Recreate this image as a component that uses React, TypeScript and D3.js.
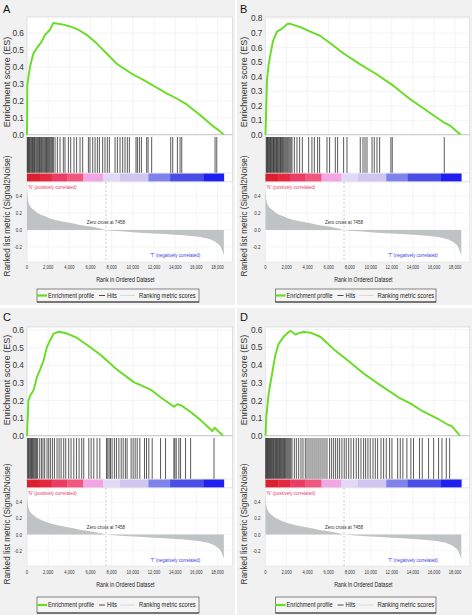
import React from "react";
import * as d3 from "d3";

const FONT = "'Liberation Sans', Arial, Helvetica, sans-serif";

// ---- chart values ----
const panelLetters = ["A", "B", "C", "D"];
const rankTickValues = [0, 2000, 4000, 6000, 8000, 10000, 12000, 14000, 16000, 18000];
const metricTickValues = [0.4, 0.2, 0.0, -0.2];
const esTicksA = [0, 0.1, 0.2, 0.3, 0.4, 0.5, 0.6];
const esTicksB = [0, 0.1, 0.2, 0.3, 0.4, 0.5, 0.6, 0.7, 0.8];
const esTicksC = [0, 0.1, 0.2, 0.3, 0.4, 0.5, 0.6];
const esTicksD = [0, 0.1, 0.2, 0.3, 0.4, 0.5, 0.6];
const esAxisMax = [0.695, 0.81, 0.617, 0.615];
const datasetSize = 18600;
const axisEndRank = 19400;
const zeroCrossRank = 7458;

// ranked list metric (signal2noise), shared by all four sets
const metricRanks = [0, 60, 150, 300, 600, 1000, 1500, 2000, 3000, 4000, 5000, 6000, 7000, 7458, 8500, 10000, 12000, 14000, 15500, 16500, 17300, 17900, 18300, 18600];
const metricScores = [0.48, 0.38, 0.32, 0.28, 0.24, 0.2, 0.17, 0.145, 0.11, 0.085, 0.06, 0.04, 0.015, 0, -0.012, -0.025, -0.04, -0.055, -0.07, -0.085, -0.11, -0.15, -0.2, -0.3];

// running enrichment score [rank, ES]
const esA: [number, number][] = [
  [0, 0], [30, 0.295], [280, 0.4], [600, 0.48], [910, 0.51], [1390, 0.55], [1700, 0.59], [2170, 0.62], [2490, 0.66],
  [3430, 0.65], [4060, 0.64], [4850, 0.62], [5640, 0.59], [6580, 0.54], [7530, 0.48], [8470, 0.42], [10050, 0.355],
  [11000, 0.325], [11940, 0.29], [13200, 0.245], [14150, 0.215], [15090, 0.18], [16350, 0.118], [17610, 0.05], [18080, 0.03], [18620, 0],
];
const esB: [number, number][] = [
  [0, 0], [140, 0.376], [300, 0.485], [460, 0.55], [710, 0.645], [1090, 0.71], [1570, 0.73], [2040, 0.76], [2290, 0.765],
  [3310, 0.74], [4260, 0.71], [5210, 0.68], [6160, 0.63], [7420, 0.56], [9000, 0.485], [10590, 0.415], [12170, 0.337],
  [13750, 0.246], [15330, 0.166], [16910, 0.087], [17550, 0.064], [18560, 0],
];
const esC: [number, number][] = [
  [0, 0], [130, 0.2], [320, 0.23], [630, 0.26], [950, 0.335], [1260, 0.38], [1580, 0.43], [1890, 0.505], [2210, 0.545],
  [2520, 0.58], [3000, 0.59], [3790, 0.58], [4730, 0.555], [5680, 0.515], [6940, 0.46], [8520, 0.375], [10090, 0.305],
  [11670, 0.263], [12620, 0.22], [13880, 0.165], [14200, 0.18], [14670, 0.17], [15460, 0.136], [16400, 0.09],
  [17510, 0.028], [17730, 0.047], [18550, 0],
];
const esD: [number, number][] = [
  [0, 0], [80, 0.11], [300, 0.24], [620, 0.35], [930, 0.456], [1250, 0.52], [1720, 0.56], [2200, 0.587], [2420, 0.593],
  [2830, 0.572], [3150, 0.58], [3620, 0.587], [4260, 0.583], [5210, 0.56], [6470, 0.49], [7740, 0.43], [9320, 0.353],
  [10900, 0.287], [12800, 0.212], [13750, 0.184], [15010, 0.137], [16280, 0.1], [17380, 0.062], [17700, 0.056], [18500, 0],
];

// gene set member positions in the ranked list
const hitsA = [
  30, 90, 150, 230, 300, 380, 450, 520, 610, 700, 760, 850, 930, 1010, 1100, 1180, 1260, 1350, 1420, 1500, 1590, 1680,
  1760, 1840, 1930, 2020, 2110, 2200, 2300, 2400, 2490, 2650, 2870, 3120, 3430, 3590, 3910, 4130, 4440, 4690, 5010, 5260,
  5800, 5950, 6210, 6430, 6650, 6840, 7150, 7370, 7590, 7780, 8320, 8540, 8790, 9040, 9260, 9480, 9670, 10300, 10430,
  10620, 10810, 11310, 11440, 11780, 13580, 13770, 14210, 14460, 14620, 17770, 17930,
];
const hitsB = [
  80, 140, 200, 260, 330, 400, 470, 540, 610, 690, 760, 830, 900, 980, 1050, 1130, 1200, 1280, 1360, 1430, 1510, 1600,
  1680, 1760, 1850, 1940, 2030, 2120, 2220, 2320, 2420, 2520, 2740, 2990, 3240, 3500, 4100, 4410, 4640, 4950, 5140, 5840,
  6090, 6630, 6850, 7420, 7740, 9000, 9260, 9450, 9640, 10120, 10330, 10590, 10840, 11910, 12040, 16980,
];
const hitsC = [
  60, 130, 200, 280, 350, 430, 510, 590, 670, 760, 840, 920, 1010, 1200, 1360, 1510, 1670, 1890, 2050, 2210, 2400, 2590,
  2840, 3030, 3220, 3470, 3660, 3940, 4160, 4420, 4670, 4920, 5170, 5360, 5840, 6060, 6310, 6620, 6880, 7510, 7630, 7760,
  7890, 8040, 8260, 8450, 8680, 8900, 9090, 9300, 9460, 9840, 10030, 10220, 10410, 10660, 11100, 11290, 11510, 11830,
  12620, 13090, 13880, 13970, 14100, 14350, 14510, 14980, 15460, 17670,
];
const hitsD = [
  20, 80, 140, 200, 270, 330, 400, 470, 540, 600, 680, 750, 820, 900, 970, 1040, 1120, 1190, 1260, 1340, 1410, 1490,
  1560, 1640, 1720, 1800, 1880, 1960, 2050, 2140, 2230, 2320, 2410, 2520, 2740, 2930, 3150, 3370, 3560, 3780, 3940, 4130,
  4320, 4510, 4700, 4890, 5080, 5270, 5460, 5650, 5840, 6090, 6280, 6470, 6660, 6850, 7040, 7260, 7480, 7670, 7900, 8120,
  8370, 8620, 8840, 9070, 9320, 9510, 9730, 9950, 10210, 10430, 10650, 10970, 11220, 11470, 11790, 12010, 12550, 12800,
  13050, 13430, 13810, 14060, 14630, 14890, 15490, 15970, 16440, 16760, 17170, 17490,
];

// red -> blue heat bar under the hits
const colorBarEdges = [0, 1200, 2330, 3800, 5320, 7210, 8790, 11470, 13520, 16670, 18600];
const colorBarColors = ["#dc1f2e", "#e6283e", "#ec3b64", "#f0577f", "#f3a6e6", "#e2d9f7", "#cfc6f2", "#7f82ea", "#4b4ee6", "#1f1ff0"];

// ---- layout ----
const rowLayouts = [
  { oy: 0, h: 305, esTop: 17, esZero: 135, esLabelY: 82, hitsBottom: 173, barBottom: 182, rankZero: 230, rankStep: 17, rankBottom: 262, tickY: 269, titleY: 282, legTop: 289, legBottom: 302 },
  { oy: 308, h: 307, esTop: 19, esZero: 128, esLabelY: 72, hitsBottom: 171, barBottom: 180, rankZero: 226.5, rankStep: 16.2, rankBottom: 258, tickY: 266, titleY: 279, legTop: 289, legBottom: 305 },
];
const colLayouts = [
  { ox: 0, x0: 27, x18k: 217.5 },
  { ox: 237, x0: 28.5, x18k: 218 },
];

const GREEN = "#66dd22";

type LabelProps = {
  x: number; y: number; size: number; sx?: number; anchor?: string; fill?: string; rotate?: boolean;
  children: React.ReactNode;
};
const Label = ({ x, y, size, sx = 1, anchor = "start", fill = "#333", rotate = false, children }: LabelProps) => (
  <text
    transform={`translate(${x},${y})${rotate ? " rotate(-90)" : ""} scale(${sx},1)`}
    fontSize={size}
    fontFamily={FONT}
    textAnchor={anchor}
    fill={fill}
  >
    {children}
  </text>
);

type PanelProps = { index: number; es: [number, number][]; hits: number[]; esTicks: number[] };

function Panel({ index, es, hits, esTicks }: PanelProps) {
  const row = rowLayouts[Math.floor(index / 2)];
  const col = colLayouts[index % 2];
  const x = d3.scaleLinear().domain([0, 18000]).range([col.x0, col.x18k]);
  const xL = x(0);
  const xR = x(axisEndRank);
  const yEs = d3.scaleLinear().domain([0, esAxisMax[index]]).range([row.esZero, row.esTop]);
  const yM = d3.scaleLinear().domain([0, 0.2]).range([row.rankZero, row.rankZero - row.rankStep]);

  const esPath = d3.line<[number, number]>().x((d) => x(d[0])).y((d) => yEs(d[1]))(es) || "";
  const metricPts = metricRanks.map((r, i) => [r, metricScores[i]] as [number, number]);
  const metricPath =
    d3.area<[number, number]>().x((d) => x(d[0])).y0(yM(0)).y1((d) => yM(d[1])).curve(d3.curveMonotoneX)(metricPts) || "";

  const legL = xL + 10;
  const legR = 199;
  const legMid = (row.legTop + row.legBottom) / 2;
  const xEnd = x(datasetSize);

  return (
    <g transform={`translate(${col.ox},${row.oy})`}>
      <rect x={0} y={0} width={235} height={row.h} fill="#f1f1f1" />
      <Label x={3} y={13} size={11} fill="#111">{panelLetters[index]}</Label>

      {/* enrichment score plot */}
      <rect x={xL} y={row.esTop} width={xR - xL} height={row.esZero - row.esTop} fill="#fff" stroke="#cfcfcf" strokeWidth={0.6} />
      {esTicks.map((t) => (
        <line key={`eg${t}`} x1={xL} x2={xR} y1={yEs(t)} y2={yEs(t)} stroke="#ececec" strokeWidth={0.6} />
      ))}
      {rankTickValues.map((t) => (
        <line key={`ev${t}`} x1={x(t)} x2={x(t)} y1={row.esTop} y2={row.esZero} stroke="#ececec" strokeWidth={0.6} />
      ))}
      <line x1={xL} x2={xR} y1={yEs(0)} y2={yEs(0)} stroke="#9a9a9a" strokeWidth={0.8} />
      <path d={esPath} fill="none" stroke={GREEN} strokeWidth={1.9} strokeLinejoin="round" />
      {esTicks.map((t) => (
        <Label key={`el${t}`} x={xL - 3} y={yEs(t) + 3} size={8.3} anchor="end">{t.toFixed(1)}</Label>
      ))}
      <Label x={10} y={row.esLabelY} size={9} anchor="middle" rotate>Enrichment score (ES)</Label>

      {/* hits */}
      <rect x={xL} y={row.esZero} width={xR - xL} height={row.barBottom - row.esZero} fill="#fff" stroke="#cfcfcf" strokeWidth={0.6} />
      {hits.map((h, i) => (
        <line key={`h${i}`} x1={x(h)} x2={x(h)} y1={row.esZero + 2} y2={row.hitsBottom} stroke="#111" strokeOpacity={0.82} strokeWidth={0.85} />
      ))}
      <line x1={xL} x2={xR} y1={row.hitsBottom} y2={row.hitsBottom} stroke="#d6d6d6" strokeWidth={0.5} />
      {colorBarColors.map((c, i) => (
        <rect
          key={`cb${i}`}
          x={x(colorBarEdges[i])}
          y={row.hitsBottom + 0.5}
          width={x(colorBarEdges[i + 1]) - x(colorBarEdges[i]) + 0.3}
          height={row.barBottom - row.hitsBottom - 1}
          fill={c}
        />
      ))}

      {/* ranked list metric */}
      <rect x={xL} y={row.barBottom} width={xR - xL} height={row.rankBottom - row.barBottom} fill="#fff" stroke="#dcdcdc" strokeWidth={0.5} />
      {metricTickValues.map((t) => (
        <line key={`mg${t}`} x1={xL} x2={xR} y1={yM(t)} y2={yM(t)} stroke="#eeeeee" strokeWidth={0.6} />
      ))}
      {rankTickValues.map((t) => (
        <line key={`mv${t}`} x1={x(t)} x2={x(t)} y1={row.barBottom} y2={row.rankBottom} stroke="#eeeeee" strokeWidth={0.6} />
      ))}
      <path d={metricPath} fill="#bfc3c3" />
      <line
        x1={x(zeroCrossRank)}
        x2={x(zeroCrossRank)}
        y1={row.barBottom}
        y2={row.rankBottom}
        stroke="#b5b5b5"
        strokeWidth={0.7}
        strokeDasharray="2,2"
      />
      <Label x={xL + 1} y={row.barBottom + 7} size={5.6} sx={0.8} fill="#e0406a">'N' (positively correlated)</Label>
      <Label x={x(zeroCrossRank)} y={row.rankZero - 6} size={5.6} sx={0.82} anchor="middle" fill="#333">
        Zero cross at {zeroCrossRank}
      </Label>
      <Label x={x(14000)} y={row.rankZero + 27} size={5.6} sx={0.8} anchor="middle" fill="#3a3ae0">'T' (negatively correlated)</Label>
      {metricTickValues.map((t) => (
        <Label key={`ml${t}`} x={xL - 5} y={yM(t) + 2} size={5.6} sx={0.8} anchor="end">{t.toFixed(1)}</Label>
      ))}
      <Label x={10} y={216} size={8.2} anchor="middle" rotate>Ranked list metric (Signal2Noise)</Label>

      {/* rank axis */}
      {rankTickValues.map((t) => (
        <Label key={`xl${t}`} x={x(t)} y={row.tickY} size={6} sx={0.68} anchor="middle">{d3.format(",")(t)}</Label>
      ))}
      <Label x={(xL + xEnd) / 2} y={row.titleY} size={8} sx={0.66} anchor="middle" fill="#222">Rank in Ordered Dataset</Label>

      {/* legend */}
      <rect x={legL} y={row.legTop} width={legR - legL} height={row.legBottom - row.legTop} fill="#f5f5f5" stroke="#555" strokeWidth={0.7} />
      <line x1={legL} x2={legR} y1={row.legBottom} y2={row.legBottom} stroke="#333" strokeWidth={1.2} />
      <line x1={legL} x2={legL + 10} y1={legMid} y2={legMid} stroke={GREEN} strokeWidth={2.2} />
      <Label x={legL + 11} y={legMid + 2.4} size={7} sx={0.82} fill="#222">Enrichment profile</Label>
      <line x1={legL + 62} x2={legL + 68} y1={legMid} y2={legMid} stroke="#222" strokeWidth={0.8} />
      <Label x={legL + 70} y={legMid + 2.4} size={7} sx={0.82} fill="#222">Hits</Label>
      <line x1={legL + 83} x2={legL + 98} y1={legMid} y2={legMid} stroke="#d0d0d0" strokeWidth={0.8} />
      <Label x={legL + 102} y={legMid + 2.4} size={7} sx={0.82} fill="#222">Ranking metric scores</Label>
    </g>
  );
}

export default function App() {
  return (
    <svg
      width={474}
      height={615}
      viewBox="0 0 474 615"
      style={{ position: "absolute", left: 0, top: 0, display: "block", background: "#fff" }}
    >
      <Panel index={0} es={esA} hits={hitsA} esTicks={esTicksA} />
      <Panel index={1} es={esB} hits={hitsB} esTicks={esTicksB} />
      <Panel index={2} es={esC} hits={hitsC} esTicks={esTicksC} />
      <Panel index={3} es={esD} hits={hitsD} esTicks={esTicksD} />
    </svg>
  );
}
